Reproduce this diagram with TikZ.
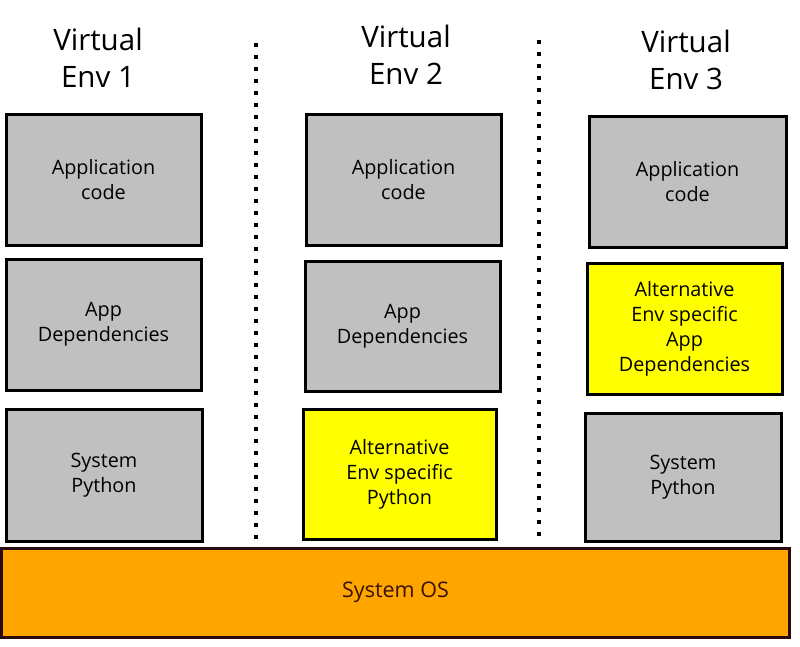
\documentclass[tikz,border=0pt]{standalone}
\usepackage{fontspec}
\setmainfont{Open Sans}
\definecolor{boxgray}{HTML}{C0C0C0}
\definecolor{boxyellow}{HTML}{FFFF00}
\definecolor{osorange}{HTML}{FFA500}
\definecolor{osborder}{HTML}{2A0A0A}
\definecolor{ostext}{HTML}{3A1200}
\begin{document}
\begin{tikzpicture}[x=1pt,y=-1pt,
  layer/.style={draw=black,line width=3pt,align=center,inner sep=0pt,
    font=\fontsize{19.8}{25}\selectfont,text=black},
  graybox/.style={layer,fill=boxgray},
  yellowbox/.style={layer,fill=boxyellow},
  title/.style={align=center,font=\fontsize{29.5}{37}\selectfont,text=black},
  sep/.style={line width=4pt,dash pattern=on 4pt off 8pt}]
\useasboundingbox (0,0) rectangle (800,646);
% titles
\node[title] (t1) at (98,58) {Virtual\\Env 1};
\node[title] (t2) at (406,55) {Virtual\\Env 2};
\node[title] (t3) at (686,60) {Virtual\\Env 3};
% column 1
\node[graybox,minimum width=195pt,minimum height=131pt] (a1) at (103.5,179.5) {Application\\code};
\node[graybox,minimum width=195pt,minimum height=131pt] (d1) at (103.5,324.5) {App\\Dependencies};
\node[graybox,minimum width=196pt,minimum height=132pt] (p1) at (104,475) {System\\Python};
% column 2
\node[graybox,minimum width=195pt,minimum height=131pt] (a2) at (403.5,179.5) {Application\\code};
\node[graybox,minimum width=195pt,minimum height=130pt] (d2) at (402.5,326) {App\\Dependencies};
\node[yellowbox,minimum width=193pt,minimum height=130pt] (p2) at (399.5,474) {Alternative\\Env specific\\Python};
% column 3
\node[graybox,minimum width=197pt,minimum height=131pt] (a3) at (687.5,181.5) {Application\\code};
\node[yellowbox,minimum width=195pt,minimum height=131pt] (d3) at (684.5,328.5) {Alternative\\Env specific\\App\\Dependencies};
\node[graybox,minimum width=196pt,minimum height=128pt] (p3) at (683,477) {System\\Python};
% system OS
\node[draw=osborder,fill=osorange,line width=3pt,minimum width=788pt,minimum height=89pt,
  inner sep=0pt,font=\fontsize{21.5}{25}\selectfont,text=ostext] (os) at (395.5,592.5) {System OS};
% separators
\coordinate (s1t) at (256,43);
\coordinate (s1b) at (256,542);
\coordinate (s2t) at (539,40);
\coordinate (s2b) at (539,542);
\draw[sep] (s1t) -- (s1b);
\draw[sep] (s2t) -- (s2b);
\end{tikzpicture}
\end{document}
